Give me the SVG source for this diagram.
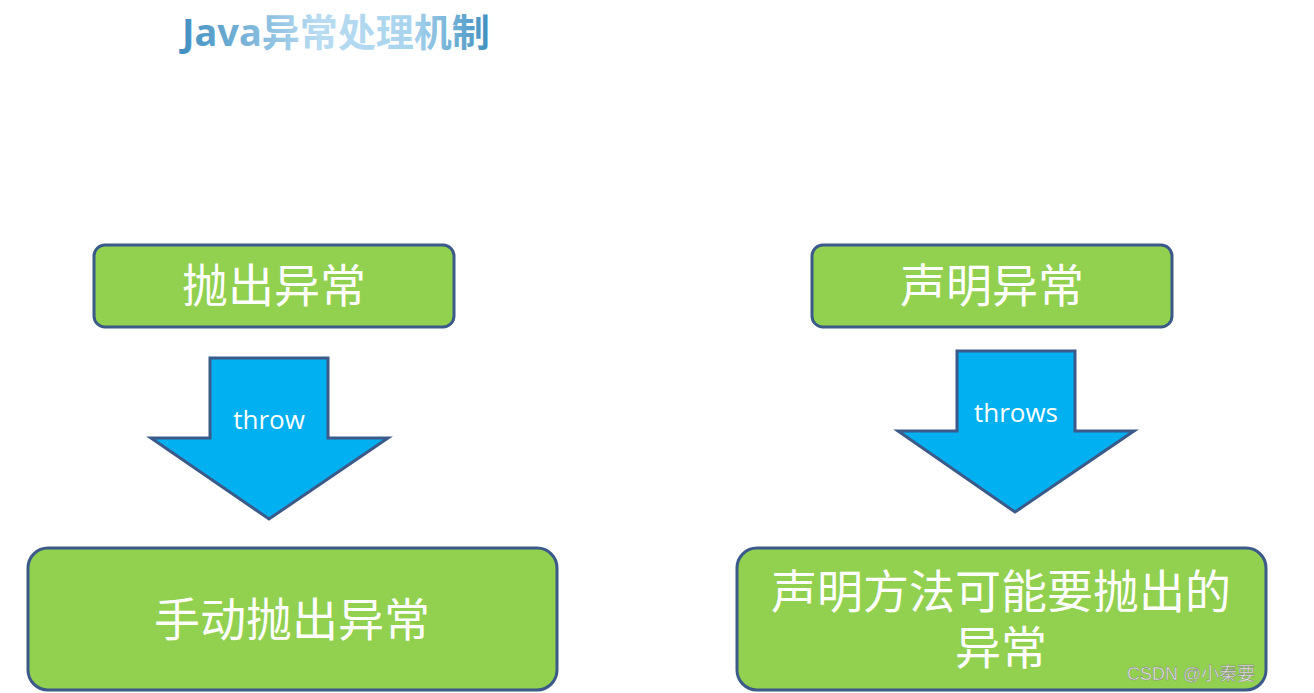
<svg xmlns="http://www.w3.org/2000/svg" width="1314" height="693" viewBox="0 0 1314 693">
<defs>
<linearGradient id="tg" x1="0" x2="1" y1="0" y2="0">
<stop offset="0" stop-color="#3f8fc0"/><stop offset="0.45" stop-color="#b8dcf2"/><stop offset="0.75" stop-color="#a9d4ee"/><stop offset="1" stop-color="#3f8fc0"/>
</linearGradient>
<style>
.box{fill:#92d050;stroke:#3b5a8a;stroke-width:3}
.arr{fill:#00b0f0;stroke:#3b5a8a;stroke-width:3;stroke-linejoin:miter}
.cn{font-family:"Liberation Serif","Noto Sans CJK SC",serif;fill:#fff;text-anchor:middle}
.en{font-family:"Open Sans","Noto Sans",sans-serif;fill:#fff;font-size:26px;text-anchor:middle}
</style>
</defs>
<rect width="1314" height="693" fill="#fff"/>
<text x="182" y="46" font-family="'Noto Sans','Noto Sans CJK SC',sans-serif" font-weight="bold" font-size="38" fill="url(#tg)">Java异常处理机制</text>
<g id="n1"><rect class="box" x="94" y="245" width="360" height="82" rx="11"/><text class="cn" x="274" y="302" font-size="46">抛出异常</text></g>
<g id="n2"><rect class="box" x="812" y="245" width="360" height="82" rx="11"/><text class="cn" x="992" y="302" font-size="46">声明异常</text></g>
<g id="n3"><rect class="box" x="28" y="548" width="529" height="142" rx="20"/><text class="cn" x="292" y="636" font-size="46">手动抛出异常</text></g>
<g id="n4"><rect class="box" x="737" y="548" width="529" height="142" rx="20"/><text class="cn" x="1001" y="608" font-size="46">声明方法可能要抛出的</text><text class="cn" x="1001" y="664" font-size="46">异常</text></g>
<g id="connectors">
<g id="a1"><polygon class="arr" points="210,358 328,358 328,438 388,438 269,519 151,438 210,438"/><text class="en" x="269" y="429">throw</text></g>
<g id="a2"><polygon class="arr" points="957,351 1075,351 1075,431 1134,431 1015,512 898,431 957,431"/><text class="en" x="1016" y="422">throws</text></g>
</g>
<text x="1127" y="680" font-family="'Liberation Sans','Noto Sans CJK SC',sans-serif" font-size="18" fill="#e8e8e8" stroke="#777" stroke-width="0.4">CSDN @小秦要</text>
</svg>
